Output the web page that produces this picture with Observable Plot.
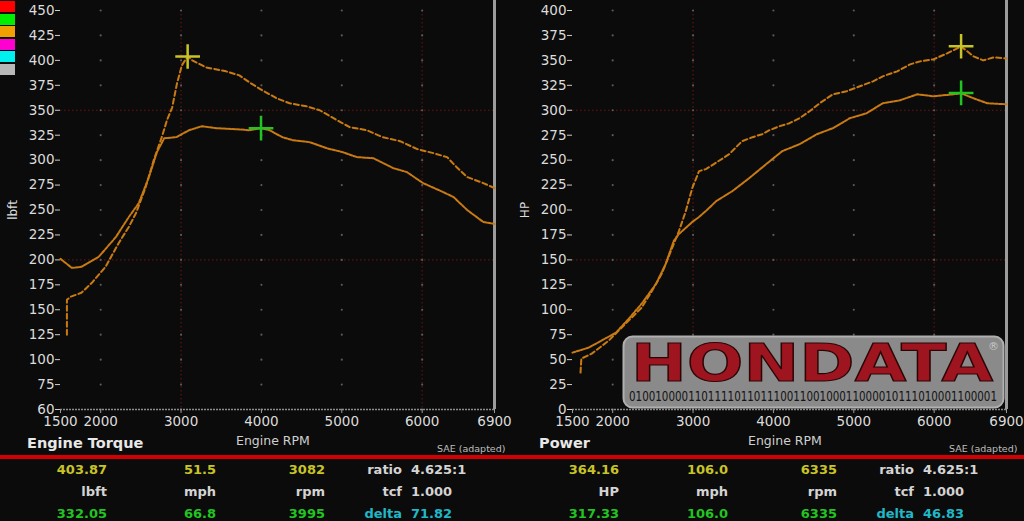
<!DOCTYPE html>
<html><head><meta charset="utf-8">
<script src="https://cdn.jsdelivr.net/npm/d3@7"></script>
<script src="https://cdn.jsdelivr.net/npm/@observablehq/plot@0.6"></script>
<style>
html,body{margin:0;padding:0;background:#0b0b0b;overflow:hidden;}
#root{position:relative;width:1024px;height:521px;background:#0b0b0b;font-family:"DejaVu Sans",Verdana,sans-serif;overflow:hidden;}
.abs{position:absolute;white-space:nowrap;}
.chart{position:absolute;top:0;}
</style></head><body><div id="root"></div>
<script>
// ---------- data ----------
const rpmTicks = [1500, 2000, 3000, 4000, 5000, 6000, 6900];
const gridRpm = [2000, 3000, 4000, 5000, 6000];
const majorRpm = [3000, 6000];

const torqueTicks = [50,75,100,125,150,175,200,225,250,275,300,325,350,375,400,425,450];
const torqueTickLabels = ["60","75","100","125","150","175","200","225","250","275","300","325","350","375","400","425","450"];
const torqueMajor = [200, 350];

const powerTicks = [0,25,50,75,100,125,150,175,200,225,250,275,300,325,350,375,400];
const powerTickLabels = ["0","25","50","75","100","125","150","175","200","225","250","275","300","325","350","375","400"];
const powerMajor = [150, 300];

// torque (lbft) vs rpm
const torqueRunA = [[1580,125],[1580,160],[1625,163],[1760,167],[1890,177],[2060,193],[2225,217],[2350,233],[2440,247],[2560,273],[2660,300],[2760,323],[2825,340],[2890,353],[2950,377],[3010,395],[3082,404],[3140,400],[3310,393],[3560,389],[3725,385],[3850,378],[4010,370],[4190,362],[4350,357],[4560,354],[4725,350],[4940,340],[5100,333],[5310,330],[5510,323],[5725,319],[5940,311],[6140,307],[6310,303],[6440,292],[6560,283],[6760,277],[6900,272]];
const torqueRunB = [[1500,201],[1640,192],[1760,193],[1975,203],[2190,223],[2350,243],[2475,257],[2600,283],[2700,308],[2790,322],[2940,323],[3100,330],[3260,334],[3440,332],[3690,331],[3850,330],[3995,332],[4100,330],[4260,323],[4390,320],[4600,318],[4810,312],[5010,308],[5190,303],[5390,302],[5640,292],[5810,288],[6010,277],[6260,268],[6390,263],[6560,250],[6760,238],[6900,236]];

// power (HP) vs rpm
const powerRunA = [[1600,37],[1610,51],[1740,56],[1950,69],[2160,86],[2360,102],[2490,119],[2610,136],[2740,162],[2825,179],[2910,199],[2990,222],[3040,232],[3075,239],[3160,241],[3240,245],[3450,256],[3610,269],[3740,273],[3860,276],[3950,280],[4075,284],[4200,287],[4325,292],[4450,299],[4575,307],[4740,316],[4910,319],[5075,324],[5240,329],[5360,334],[5540,339],[5700,346],[5825,349],[5990,351],[6160,357],[6335,364],[6490,354],[6610,350],[6740,353],[6900,352]];
const powerRunB = [[1500,57],[1700,62],[1860,69],[2040,77],[2200,91],[2360,106],[2540,126],[2660,146],[2760,169],[2825,176],[2990,188],[3075,193],[3160,199],[3290,209],[3490,219],[3700,232],[3910,246],[4110,259],[4325,266],[4540,276],[4740,282],[4950,292],[5160,297],[5360,307],[5575,310],[5790,316],[5990,314],[6240,316],[6335,317],[6490,312],[6660,307],[6900,306]];

const torqueCursorA = [[3082, 403.87]];
const torqueCursorB = [[3995, 332.05]];
const powerCursorA = [[6335, 364.16]];
const powerCursorB = [[6335, 317.33]];

const legendColors = ["#ff0000","#00ee00","#f0a000","#ff00d0","#00f0f0","#b8b8b8"];

const torqueTable = [
  ["403.87","51.5","3082","ratio","4.625:1"],
  ["lbft","mph","rpm","tcf","1.000"],
  ["332.05","66.8","3995","delta","71.82"]
];
const powerTable = [
  ["364.16","106.0","6335","ratio","4.625:1"],
  ["HP","mph","rpm","tcf","1.000"],
  ["317.33","106.0","6335","delta","46.83"]
];
const logoWord = "HONDATA";
const logoBits = "01001000011011110110111001100100011000010111010001100001";

// ---------- drawing ----------
const root = document.getElementById("root");
const LINE = "#c97a12";
const YEL = "#c8c428", GRN = "#22c422", CYA = "#20b8c8", WHT = "#d4d4d4";

function chart(runA, runB, yTicks, yLabels, yMajor, curA, curB) {
  const grid = gridRpm.flatMap(x => yTicks.map(y => ({x, y})));
  const fmt = d => yLabels[yTicks.indexOf(d)];
  return Plot.plot({
    width: 512, height: 440,
    marginLeft: 60, marginRight: 18, marginTop: 10, marginBottom: 31,
    style: {background: "transparent", color: "#dcdcdc", fontFamily: "DejaVu Sans, Verdana, sans-serif", fontSize: "13.5px"},
    x: {domain: [1500, 6900]},
    y: {domain: [yTicks[0], yTicks[yTicks.length - 1]]},
    marks: [
      Plot.ruleY(yMajor, {stroke: "#6a1616", strokeDasharray: "1.5,2.5"}),
      Plot.ruleX(majorRpm, {stroke: "#6a1616", strokeDasharray: "1.5,2.5"}),
      Plot.dot(grid, {x: "x", y: "y", r: 1.1, fill: "#5a5a5a", stroke: null}),
      Plot.ruleY([yTicks[0]], {stroke: "#8c8c8c", strokeDasharray: "2,1", strokeWidth: 1.5}),
      Plot.ruleX([6900], {stroke: "#9c9c9c", strokeWidth: 3, y1: yTicks[yTicks.length - 1] + 10, y2: yTicks[0]}),
      Plot.axisX({ticks: rpmTicks, tickSize: 4, tickPadding: 3, label: null, tickFormat: d => String(d), stroke: "#9a9a9a"}),
      Plot.axisY({ticks: yTicks, tickSize: 5, tickPadding: 1, label: null, tickFormat: fmt, stroke: "#cfcfcf"}),
      Plot.line(runB, {x: d => d[0], y: d => d[1], stroke: LINE, strokeWidth: 2, strokeDasharray: "3,1.5"}),
      Plot.line(runA, {x: d => d[0], y: d => d[1], stroke: LINE, strokeWidth: 2, strokeDasharray: "5,3"}),
      Plot.dot(curA, {x: d => d[0], y: d => d[1], symbol: "plus", r: 8, stroke: YEL, strokeWidth: 2.5}),
      Plot.dot(curB, {x: d => d[0], y: d => d[1], symbol: "plus", r: 8, stroke: GRN, strokeWidth: 2.5})
    ]
  });
}

function place(el, left) {
  el.classList.add("chart");
  el.style.left = left + "px";
  root.appendChild(el);
}
place(chart(torqueRunA, torqueRunB, torqueTicks, torqueTickLabels, torqueMajor, torqueCursorA, torqueCursorB), 0);
place(chart(powerRunA, powerRunB, powerTicks, powerTickLabels, powerMajor, powerCursorA, powerCursorB), 512);

function text(str, opts) {
  const d = document.createElement("div");
  d.className = "abs";
  d.textContent = str;
  Object.assign(d.style, opts);
  root.appendChild(d);
  return d;
}
function textRight(str, endX, cy, color, size, weight) {
  text(str, {left: (endX - 200) + "px", width: "200px", textAlign: "right", top: (cy - 10) + "px", lineHeight: "20px", color, fontSize: size + "px", fontWeight: weight || "bold"});
}
function textLeft(str, x, cy, color, size, weight) {
  text(str, {left: x + "px", top: (cy - 10) + "px", lineHeight: "20px", color, fontSize: size + "px", fontWeight: weight || "bold"});
}

// legend swatches
legendColors.forEach((c, i) => {
  const s = document.createElement("div");
  s.className = "abs";
  Object.assign(s.style, {left: "0px", top: (1 + i * 12.6) + "px", width: "15px", height: "11px", background: c});
  root.appendChild(s);
});

// titles and axis labels
[[0, "Engine Torque", "lbft"], [512, "Power", "HP"]].forEach(([ox, title, ylab]) => {
  textLeft(title, ox + 27, 443, "#e8e8e8", 14.5, "bold");
  text("Engine RPM", {left: (ox + 236) + "px", top: "431px", lineHeight: "20px", color: "#cfcfcf", fontSize: "12.5px"});
  text("SAE (adapted)", {left: (ox + 437) + "px", top: "441px", lineHeight: "16px", color: "#bdbdbd", fontSize: "9.5px"});
  text(ylab, {left: (ox + 13) + "px", top: "210px", lineHeight: "14px", color: "#dcdcdc", fontSize: "12px", transform: "translate(-50%,-50%) rotate(-90deg)"});
});

// red band
const band = document.createElement("div");
band.className = "abs";
Object.assign(band.style, {left: "0px", top: "455px", width: "1024px", height: "4px", background: "#d20000"});
root.appendChild(band);

// readout tables
function table(rows, ox) {
  const rowY = [470, 492, 514];
  const colors = [[YEL, YEL, YEL, WHT, WHT], [WHT, WHT, WHT, WHT, WHT], [GRN, GRN, GRN, CYA, CYA]];
  rows.forEach((r, i) => {
    const y = rowY[i];
    textRight(r[0], ox + 107, y, colors[i][0], 13);
    textRight(r[1], ox + 216, y, colors[i][1], 13);
    textRight(r[2], ox + 325, y, colors[i][2], 13);
    textRight(r[3], ox + 402, y, colors[i][3], 13);
    textLeft(r[4], ox + 411, y, colors[i][4], 13);
  });
}
table(torqueTable, 0);
table(powerTable, 512);

// watermark logo
const ns = "http://www.w3.org/2000/svg";
const logo = document.createElementNS(ns, "svg");
logo.setAttribute("width", 384); logo.setAttribute("height", 80);
Object.assign(logo.style, {position: "absolute", left: "622px", top: "335px", overflow: "visible"});
logo.innerHTML = `
  <rect x="1.5" y="1.5" width="380" height="71" rx="9" fill="#8a8a8a" stroke="#b0b0b0" stroke-width="2"/>
  <text x="9" y="46" font-family="DejaVu Sans" font-weight="bold" font-size="52" fill="#9e1520" stroke="#2a0505" stroke-width="1.2" textLength="362" lengthAdjust="spacingAndGlyphs">${logoWord}</text>
  <text x="366" y="15" font-family="DejaVu Sans" font-size="11" fill="#c8c8c8">®</text>
  <text x="7" y="66" font-family="DejaVu Sans Condensed, DejaVu Sans" font-size="14" fill="#141414" textLength="368" lengthAdjust="spacingAndGlyphs">${logoBits}</text>`;
root.appendChild(logo);
</script></body></html>
